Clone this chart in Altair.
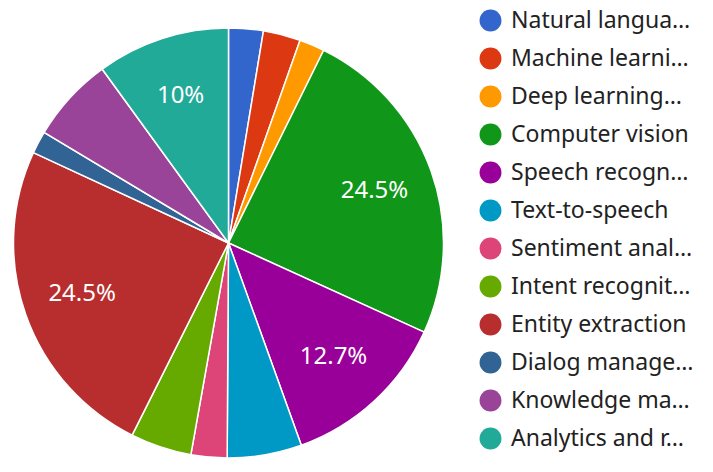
import altair as alt
import pandas as pd

categories = [
    "Natural langua…",
    "Machine learni…",
    "Deep learning…",
    "Computer vision",
    "Speech recogn…",
    "Text-to-speech",
    "Sentiment anal…",
    "Intent recognit…",
    "Entity extraction",
    "Dialog manage…",
    "Knowledge ma…",
    "Analytics and r…",
]
values = [2.6, 2.8, 1.9, 24.5, 12.7, 5.6, 2.7, 4.6, 24.5, 1.7, 6.4, 10.0]
colors = ["#3366cc", "#dc3912", "#ff9900", "#109618", "#990099", "#0099c6",
          "#dd4477", "#66aa00", "#b82e2e", "#316395", "#994499", "#22aa99"]

df = pd.DataFrame({"category": categories, "value": values,
                   "idx": list(range(len(categories)))})

base = alt.Chart(df).transform_calculate(
    label="datum.value >= 10 ? format(datum.value, '.1~f') + '%' : ''"
).encode(
    theta=alt.Theta("value:Q", stack=True),
    order=alt.Order("idx:Q", sort="ascending"),
)

pie = base.mark_arc(radius=215, stroke="white", strokeWidth=1.5).encode(
    x=alt.value(220.5),
    y=alt.value(235),
    color=alt.Color(
        "category:N",
        scale=alt.Scale(domain=categories, range=colors),
        legend=alt.Legend(
            title=None,
            orient="none",
            legendX=471,
            legendY=1,
            symbolType="circle",
            symbolSize=480,
            symbolStrokeWidth=0,
            labelFont="Noto Sans",
            labelFontSize=23,
            labelColor="#222222",
            labelLimit=260,
            labelOffset=9,
            rowPadding=14,
            padding=0,
        ),
    ),
)

text = base.mark_text(radius=155, font="Noto Sans", fontSize=24, color="white").encode(
    x=alt.value(220.5),
    y=alt.value(235),
    text="label:N",
)

chart = (pie + text).properties(
    width=697, height=456, padding=0,
    autosize=alt.AutoSizeParams(type="none"),
).configure_view(stroke=None)

chart.save("out.html", embed_options={"renderer": "svg", "actions": False})
